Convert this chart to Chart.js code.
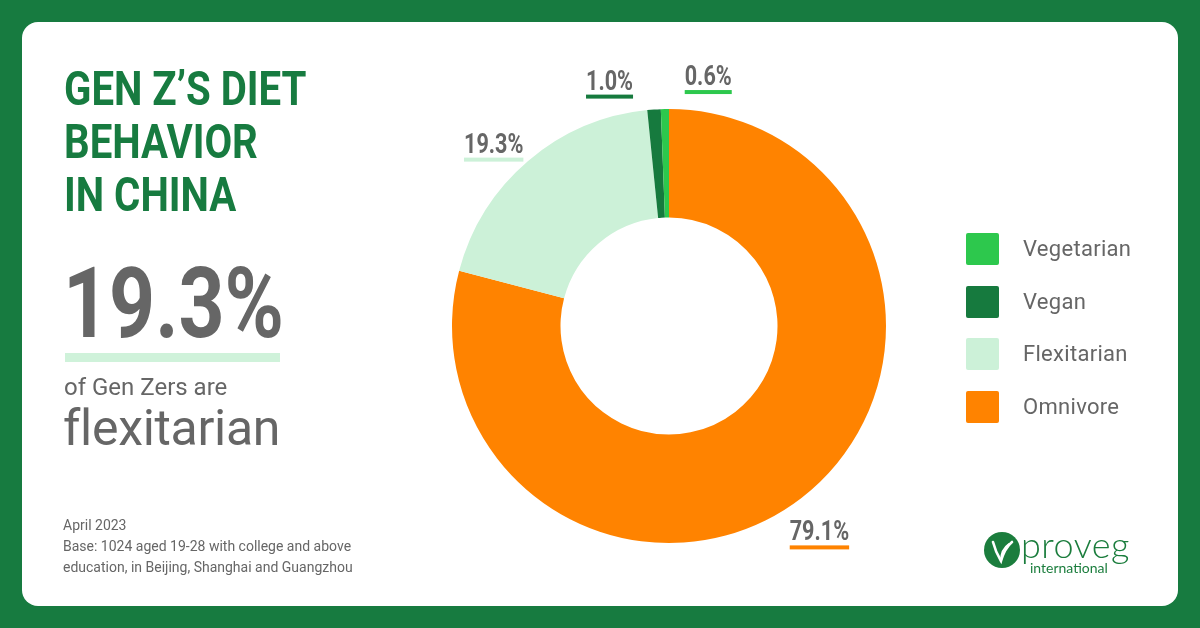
<!DOCTYPE html>
<html>
<head>
<meta charset="utf-8">
<script src="https://cdn.jsdelivr.net/npm/chart.js@4"></script>
<style>
  body { margin: 0; width: 1200px; height: 628px; overflow: hidden; background: #177b40; font-family: Roboto, sans-serif; position: relative; }
  .card { position: absolute; left: 22px; top: 22px; width: 1156px; height: 584px; background: #fff; border-radius: 16px; }
  #myChart { position: absolute; left: 0; top: 0; }
  .title { position: absolute; left: 64px; color: #177b40; font-weight: 700; font-size: 49px; line-height: 53px; white-space: nowrap; transform: scaleX(0.82); transform-origin: left top; }
  .big { position: absolute; left: 63px; top: 255px; color: #666; font-weight: 700; font-size: 98px; line-height: 98px; transform: scaleX(0.82); transform-origin: left top; white-space: nowrap; }
  .bar { position: absolute; left: 65px; top: 353px; width: 215px; height: 9px; background: #cff2da; }
  .sub1 { position: absolute; left: 64px; top: 375px; color: #666; font-size: 24px; line-height: 24px; white-space: nowrap; }
  .sub2 { position: absolute; left: 63px; top: 403px; color: #666; font-size: 50px; line-height: 50px; letter-spacing: -0.3px; white-space: nowrap; }
  .foot { position: absolute; left: 63px; top: 515px; color: #666; font-size: 14px; line-height: 21px; }
  .legend { position: absolute; left: 966px; top: 233px; }
  .legend .item { position: relative; height: 52.5px; }
  .legend .sw { position: absolute; left: 0; top: 0; width: 33px; height: 32px; border-radius: 2px; }
  .legend .lb { position: absolute; left: 57px; top: 3px; font-size: 22px; line-height: 26px; letter-spacing: 0.3px; color: #666; white-space: nowrap; }
  .logo { position: absolute; left: 982px; top: 530px; }
</style>
</head>
<body>
<div class="card"></div>
<canvas id="myChart" width="1200" height="628"></canvas>

<div class="title" style="top:62px">GEN Z’S DIET</div>
<div class="title" style="top:115px">BEHAVIOR</div>
<div class="title" style="top:168px">IN CHINA</div>
<div class="big">19.3%</div>
<div class="bar"></div>
<div class="sub1">of Gen Zers are</div>
<div class="sub2">flexitarian</div>
<div class="foot">April 2023<br>Base: 1024 aged 19-28 with college and above<br>education, in Beijing, Shanghai and Guangzhou</div>

<div class="legend" id="legend"></div>

<svg class="logo" width="180" height="50" viewBox="0 0 180 50">
  <circle cx="20" cy="20" r="18" fill="#1b7d3d"/>
  <path d="M11 12 C13 20 16 26 19 31 C21 24 24 17 30 12" fill="none" stroke="#fff" stroke-width="2.6" stroke-linecap="round"/>
  <path d="M19 31 C19 24 21 18 27 14" fill="none" stroke="#fff" stroke-width="2" stroke-linecap="round"/>
  <text x="39" y="28" font-family="Lato, sans-serif" font-size="36" font-weight="300" fill="#1b7d3d" letter-spacing="0.5">proveg</text>
  <text x="48" y="43" font-family="Lato, sans-serif" font-size="14" fill="#1b7d3d">international</text>
</svg>

<script>
// legend order (counter-clockwise from 12 o'clock)
let categories = ['Vegetarian', 'Vegan', 'Flexitarian', 'Omnivore'];
let shares = [0.6, 1.0, 19.3, 79.1];
let percentLabels = ['0.6%', '1.0%', '19.3%', '79.1%'];
let colors = ['#2dc84d', '#167a3e', '#ccf1d8', '#ff8300'];

// legend
let legend = document.getElementById('legend');
categories.forEach((c, i) => {
	let item = document.createElement('div');
	item.className = 'item';
	item.innerHTML = '<div class="sw" style="background:' + colors[i] + '"></div><div class="lb">' + c + '</div>';
	legend.appendChild(item);
});

// chart draws clockwise, so feed it reversed
let chartLabels = categories.slice().reverse();
let chartData = shares.slice().reverse();
let chartColors = colors.slice().reverse();
let chartText = percentLabels.slice().reverse();

// small nudges so the labels of the thin slices don't overlap
const nudges = [[-4, 4], [-11, 9], [-42, 6], [44, 2]];

const sliceLabels = {
	id: 'sliceLabels',
	afterDatasetsDraw(chart) {
		const ctx = chart.ctx;
		const meta = chart.getDatasetMeta(0);
		meta.data.forEach((arc, i) => {
			const mid = (arc.startAngle + arc.endAngle) / 2;
			const r = arc.outerRadius + 36;
			const x = arc.x + Math.cos(mid) * r + nudges[i][0];
			const y = arc.y + Math.sin(mid) * r + nudges[i][1];
			ctx.save();
			ctx.font = '700 27px Roboto';
			const w = ctx.measureText(chartText[i]).width * 0.8;
			ctx.fillStyle = chartColors[i];
			ctx.fillRect(x - w / 2, y + 15, w, 4);
			ctx.translate(x - w / 2, y + 10);
			ctx.scale(0.8, 1);
			ctx.fillStyle = '#666';
			ctx.textBaseline = 'alphabetic';
			ctx.fillText(chartText[i], 0, 0);
			ctx.restore();
		});
	}
};

const data = {
	labels: chartLabels,
	datasets: [{
		data: chartData,
		backgroundColor: chartColors,
		borderWidth: 0
	}]
};

const config = {
	type: 'doughnut',
	data: data,
	options: {
		responsive: false,
		animation: false,
		cutout: '50%',
		layout: {
			padding: { left: 452, right: 314, top: 109, bottom: 85 }
		},
		plugins: {
			legend: { display: false },
			tooltip: { enabled: false }
		}
	},
	plugins: [sliceLabels]
};

const myChart = new Chart(
	document.getElementById('myChart'),
	config
);
</script>
</body>
</html>
